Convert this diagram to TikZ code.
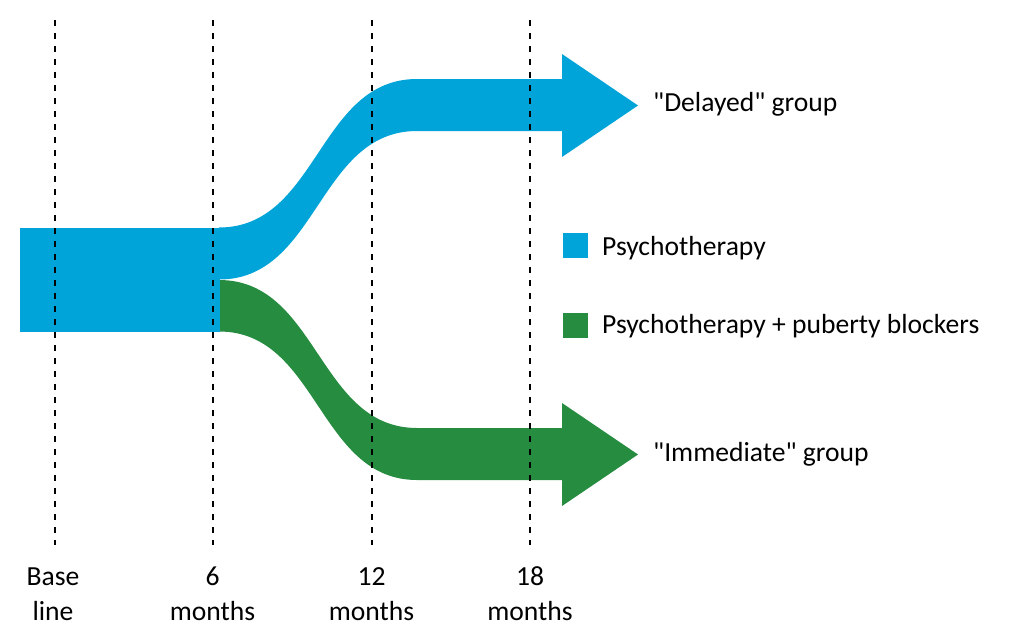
\documentclass[tikz,border=0pt]{standalone}
\usepackage{fontspec}
\setmainfont{Carlito}
\definecolor{bandblue}{RGB}{0,164,216}
\definecolor{bandgreen}{RGB}{38,140,64}
\begin{document}
\begin{tikzpicture}[x=1pt,y=-1pt,
  guide/.style={draw=black,line width=1.3pt,dash pattern=on 6pt off 7pt},
  bigtxt/.style={font=\fontsize{27.6}{33}\selectfont,inner sep=0pt,anchor=base west},
  axtxt/.style={font=\fontsize{27.6}{33}\selectfont,inner sep=0pt,anchor=base},
  legbox/.style={draw=none,minimum size=25pt,inner sep=0pt,anchor=north west}]
\useasboundingbox (0,0) rectangle (1010,643);
% bands
\fill[bandblue] (219,227.5) .. controls (318,227.5) and (318,79) .. (417,79)
  -- (562,79) -- (562,54) -- (638,105.5) -- (562,157) -- (562,131) -- (417,131)
  .. controls (318,131) and (318,279.5) .. (219,279.5) -- cycle;
\fill[bandgreen] (219,280) .. controls (318,280) and (318,428) .. (417,428)
  -- (562,428) -- (562,403) -- (638,454.5) -- (562,506) -- (562,480) -- (417,480)
  .. controls (318,480) and (318,331.5) .. (219,331.5) -- cycle;
\fill[bandblue] (20,227.5) rectangle (219.5,331.5);
% guides
\foreach \n/\x in {a/55,b/213,c/372,d/530}{
  \coordinate (\n top) at (\x,20);
  \coordinate (\n bot) at (\x,545);
  \draw[guide] (\n top) -- (\n bot);
}
% axis labels
\node[axtxt] (l1a) at (53,585) {Base};
\node[axtxt] (l1b) at (53,620) {line};
\node[axtxt] (l2a) at (212.5,585) {6};
\node[axtxt] (l2b) at (212.5,620) {months};
\node[axtxt] (l3a) at (371.5,585) {12};
\node[axtxt] (l3b) at (371.5,620) {months};
\node[axtxt] (l4a) at (530,585) {18};
\node[axtxt] (l4b) at (530,620) {months};
% group labels
\node[bigtxt] (delayed) at (653,111.7) {\textquotedbl Delayed\textquotedbl{} group};
\node[bigtxt] (immediate) at (653,461.7) {\textquotedbl Immediate\textquotedbl{} group};
% legend
\node[legbox,fill=bandblue] (kblue) at (563,233) {};
\node[legbox,fill=bandgreen] (kgreen) at (563,313) {};
\node[bigtxt] (tblue) at (602,255) {Psychotherapy};
\node[bigtxt] (tgreen) at (602,333.3) {Psychotherapy + puberty blockers};
\end{tikzpicture}
\end{document}
